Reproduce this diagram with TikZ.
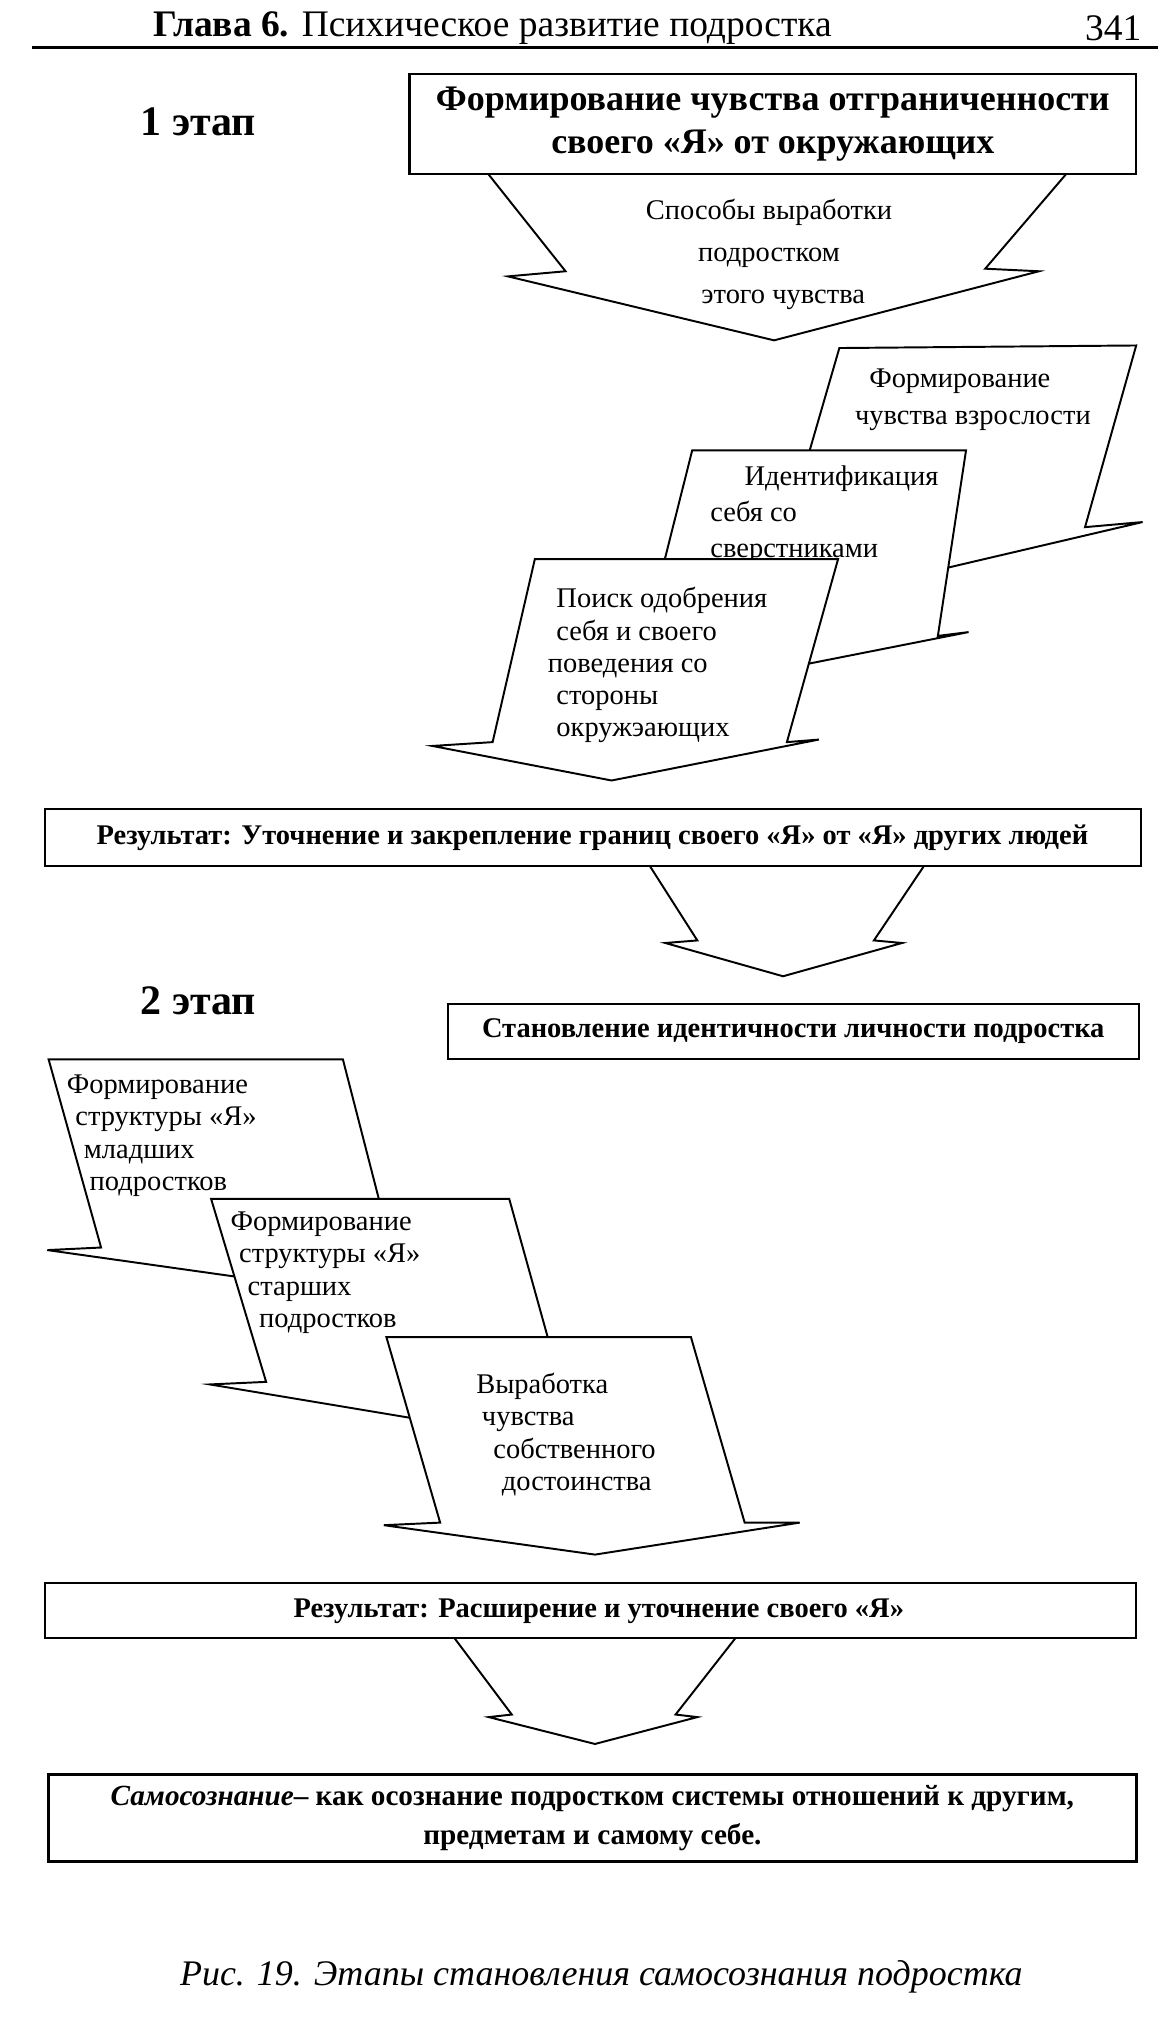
\documentclass[tikz,border=0pt]{standalone}
\usepackage{fontspec}
\setmainfont{Liberation Serif}
\usepackage{tikz}
\usetikzlibrary{positioning}

\begin{document}
\begin{tikzpicture}[x=0.03cm, y=-0.03cm, line join=miter]
    \tikzstyle{ramka}=[ %
      draw, rectangle, line width=1.3pt,
      inner sep=0, outer sep=0
    ]
    \tikzstyle{karta}=[draw, line width=1.3pt, fill=white]
    \tikzstyle{strelka}=[draw, line width=1.3pt, fill=white]
    \tikzstyle{tekst}=[align=left, anchor=north west, inner sep=0,
      font=\fontsize{19}{21.5}\selectfont]
    \tikzstyle{zhirn}=[font=\bfseries\fontsize{19}{21}\selectfont]
    \useasboundingbox (0,0) rectangle (910,1585);
  %  \draw[help lines] (0,0) grid (910,1585);
    % header
    \path (385,22) node(glava) {\fontsize{25}{28}\selectfont\textbf{Глава 6.} Психическое развитие подростка}
          (870,22) node(str) {\fontsize{25}{28}\selectfont 341};
    \draw[line width=1.6pt] (25,37) -- (905,37);
    % 1 etap
    \path (155,95) node(etap1) {\bfseries\fontsize{28}{30}\selectfont 1 этап};
    \draw[strelka] (380,134) -- (442,212) -- (397,216) -- (605,266) -- (812,212)
          -- (770,210) -- (835,134);
    \draw[ramka, line width=1.6pt, fill=white] (320,58) rectangle (888,136);
    \path (604,97) node(zag) [align=center, font=\bfseries\fontsize{24}{29}\selectfont]
          {Формирование чувства отграниченности\\ своего «Я» от окружающих};
    \path (601,199) node(sposob) [align=center, font=\fontsize{19}{28}\selectfont]
          {Способы выработки\\ подростком\\ \hspace*{1em}этого чувства};
    % kartochki 1
    \draw[karta] (656,272) -- (888,270) -- (848,412) -- (893,408) -- (735,445)
          -- (590,412) -- (616,410) -- cycle;
    \path (668,288) node(vzr) [tekst, font=\fontsize{19}{25}\selectfont] {\hspace*{0.5em}Формирование\\ чувства взрослости};
    \draw[karta] (541,352) -- (755,352) -- (733,497) -- (757,494) -- (600,525)
          -- (480,497) -- (505,495) -- cycle;
    \path (555,364) node(ident) [tekst, font=\fontsize{19}{24}\selectfont] {\hspace*{1.2em}Идентификация\\ себя со\\ сверстниками};
    \draw[karta] (418,437) -- (655,437) -- (615,580) -- (640,578) -- (478,610)
          -- (338,583) -- (385,580) -- cycle;
    \path (428,459) node(poisk) [tekst]
          {\hspace*{0.3em}Поиск одобрения\\ \hspace*{0.3em}себя и своего\\ поведения со\\ \hspace*{0.3em}стороны\\ \hspace*{0.3em}окружэающих};
    % rezultat 1
    \draw[strelka] (508,677) -- (545,735) -- (520,737) -- (612,763) -- (705,737)
          -- (683,735) -- (722,677);
    \draw[ramka, fill=white] (35,632) rectangle (892,677);
    \path (463,655) node(rez1) [zhirn]
          {Результат: Уточнение и закрепление границ своего «Я» от «Я» других людей};
    % 2 etap
    \path (155,782) node(etap2) {\bfseries\fontsize{28}{30}\selectfont 2 этап};
    \draw[ramka] (350,785) rectangle (890,828);
    \path (620,806) node(identich) [zhirn] {Становление идентичности личности подростка};
    % kartochki 2
    \draw[karta] (38,828) -- (268,828) -- (302,960) -- (200,1000) -- (37,977)
          -- (79,975) -- cycle;
    \path (52,840) node(mlad) [tekst]
          {Формирование\\ \hspace*{0.3em}структуры «Я»\\ \hspace*{0.6em}младших\\ \hspace*{0.8em}подростков};
    \draw[karta] (165,937) -- (398,937) -- (435,1070) -- (320,1108) -- (164,1082)
          -- (208,1080) -- cycle;
    \path (180,947) node(star) [tekst]
          {Формирование\\ \hspace*{0.3em}структуры «Я»\\ \hspace*{0.6em}старших\\ \hspace*{1em}подростков};
    \draw[karta] (302,1045) -- (540,1045) -- (582,1190) -- (625,1190) -- (465,1215)
          -- (300,1192) -- (344,1190) -- cycle;
    \path (372,1073) node(dost) [tekst]
          {Выработка\\ \hspace*{0.2em}чувства\\ \hspace*{0.6em}собственного\\ \hspace*{0.9em}достоинства};
    % rezultat 2
    \draw[strelka] (355,1280) -- (400,1340) -- (382,1342) -- (465,1363) -- (545,1342)
          -- (528,1340) -- (575,1280);
    \draw[ramka, fill=white] (35,1237) rectangle (888,1280);
    \path (468,1259) node(rez2) [zhirn] {Результат: Расширение и уточнение своего «Я»};
    % itog
    \draw[ramka, line width=2pt] (38,1387) rectangle (888,1455);
    \path (463,1421) node(samo) [align=center, zhirn, font=\bfseries\fontsize{19.5}{26}\selectfont]
          {\textit{Самосознание}– как осознание подростком системы отношений к другим,\\ предметам и самому себе.};
    % podpis
    \path (470,1545) node(podpis) {\itshape\fontsize{24}{28}\selectfont Рис. 19. Этапы становления самосознания подростка};
\end{tikzpicture}
\end{document}
